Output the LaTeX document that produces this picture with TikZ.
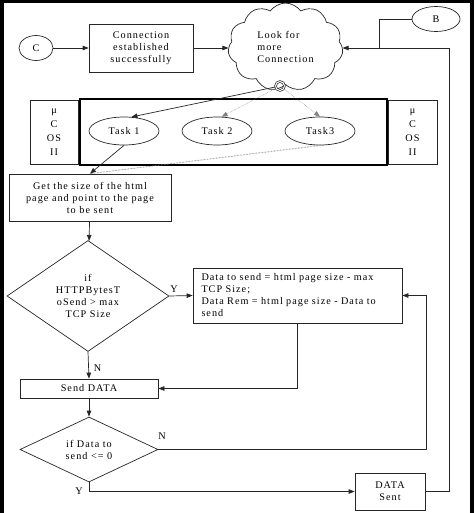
\documentclass[tikz,border=0pt]{standalone}
\usepackage{fontspec}
\setmainfont{Liberation Serif}[LetterSpace=10]
\usetikzlibrary{shapes.geometric,shapes.symbols,arrows.meta}
\begin{document}
\begin{tikzpicture}[x=1pt,y=-1pt,
  every node/.style={font=\fontsize{10.2}{12}\selectfont},
  ln/.style={draw=black!85,line width=0.7pt},
  box/.style={ln,rectangle,inner sep=2pt,align=center},
  oval/.style={ln,ellipse,inner sep=0pt},
  dec/.style={ln,diamond,inner sep=0pt,align=center},
  arr/.style={ln,-{Triangle[length=6pt,width=4.5pt]}},
  garr/.style={draw=black!50,line width=0.5pt,densely dotted,-{Triangle[length=6pt,width=4.5pt]}},
  gln/.style={draw=black!50,line width=0.5pt,densely dotted},
  lbl/.style={inner sep=0pt}]
\useasboundingbox (0,0) rectangle (474,513);
% outer frame
\fill[black] (0,0) rectangle (4,513);
\fill[black] (0,0) rectangle (474,3);
\fill[black] (470,0) rectangle (474,513);

% top row
\node[oval,minimum width=34,minimum height=25] (C) at (36,48) {C};
\node[box,minimum width=104,minimum height=48] (conn) at (141,48) {Connection\\established\\successfully};
\node[ln,cloud,cloud puffs=11,cloud puff arc=110,minimum width=115,minimum height=65,align=left,inner sep=0pt] (look) at (285.5,47) {Look for\\more\\Connection};
\node[ln,circle,double,double distance=1pt,minimum size=9,inner sep=0pt] (hub) at (280,86) {};
\node[oval,minimum width=48,minimum height=25] (B) at (436,19) {B};

% kernel row
\node[box,minimum width=48,minimum height=64,font=\fontsize{10.2}{14}\selectfont] (osL) at (54,132) {μ\\C\\OS\\II};
\node[draw=black,line width=1.6pt,minimum width=307,minimum height=66,inner sep=0pt] (kern) at (233.5,132) {};
\node[box,minimum width=49,minimum height=64,font=\fontsize{10.2}{14}\selectfont] (osR) at (412.5,132) {μ\\C\\OS\\II};
\node[oval,minimum width=70,minimum height=28] (t1) at (124,131) {Task 1};
\node[oval,minimum width=70,minimum height=28] (t2) at (217,131) {Task 2};
\node[oval,minimum width=70,minimum height=28] (t3) at (320,131) {Task3};

% flow
\node[box,minimum width=162,minimum height=47] (get) at (90,197.5) {Get the size of the html\\page and point to the page\\to be sent};
\node[dec,minimum width=162,minimum height=111,aspect=1.46] (d1) at (88,296) {if\\HTTPBytesT\\oSend > max\\TCP Size};
\node[box,minimum width=209,minimum height=55,align=left,text width=192] (data) at (297.5,295.5) {Data to send = html page size - max\\TCP Size;\\Data Rem = html page size - Data to\\send};
\node[box,minimum width=138,minimum height=19] (send) at (89,388.5) {Send DATA};
\node[dec,minimum width=138,minimum height=65,aspect=2.12] (d2) at (89,449.5) {if Data to\\send <= 0};
\node[box,minimum width=70,minimum height=37] (sent) at (390,491.5) {DATA\\Sent};

\coordinate (bj) at (379,48);
\coordinate (rR) at (449,48);
\coordinate (nR) at (426,295.5);

% connectors
\draw[arr] (C) -- (conn);
\draw[arr] (conn) -- (look.west |- conn.east);
\draw[ln] (B.west) -| (bj);
\draw[arr] (sent.east) -| (rR) -- (look.east |- rR);
\draw[arr] (hub) -- (t1.62);
\draw[garr] (hub) -- (t2.72);
\draw[garr] (hub) -- (t3.north);
\draw[arr] (t1.south) -- (get.north);
\draw[gln] (t3.262) -- (get.north);
\draw[gln] (t3.285) -- (get.north);
\draw[arr] (get) -- (d1);
\draw[arr] (d1.east) -- (data.west) node[lbl,pos=0.2,above=3pt] {Y};
\draw[arr] (d1.south) -- (send.north) node[lbl,pos=0.6,right=5pt] {N};
\draw[arr] (data.south) |- (send.east);
\draw[arr] (send) -- (d2);
\draw[arr] (d2.east) -| (nR) -- (data.east);
\node[lbl] (nlab) at (162,436) {N};
\draw[arr] (d2.south) |- (sent.west);
\node[lbl] (ylab) at (79,491) {Y};
\end{tikzpicture}
\end{document}
